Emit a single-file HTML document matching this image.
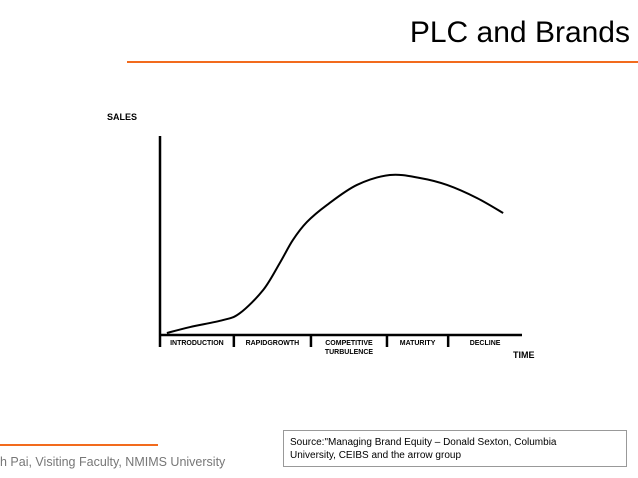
<!DOCTYPE html>
<html><head><meta charset="utf-8"><style>
body{margin:0;width:638px;height:478px;background:#fff;overflow:hidden;font-family:"Liberation Sans",sans-serif;position:relative}
.t{position:absolute;right:8px;top:16px;font-size:30px;color:#000}
.src{position:absolute;left:283px;top:430px;border:1px solid #999;font-size:10px;line-height:13px;padding:5px 0 0 6px;box-sizing:border-box;width:344px;height:37px}
.foot{position:absolute;left:0;top:455px;font-size:12.5px;color:#777}
</style></head><body>
<div class="t">PLC and Brands</div>
<div style="position:absolute;left:127px;top:61px;width:511px;height:2px;background:#f26b1d"></div>
<svg width="638" height="478" style="position:absolute;left:0;top:0" id="c"></svg>
<div style="position:absolute;left:0;top:444px;width:158px;height:2px;background:#f26b1d"></div>
<div class="foot">h Pai, Visiting Faculty, NMIMS University</div>
<div class="src">Source:"Managing Brand Equity – Donald Sexton, Columbia<br>University, CEIBS and the arrow group</div>
<script>
const times=[1.9,8.3,17.4,22.1,28.5,33.1,36.7,40.6,46.1,54.4,63.5,71.8,79.3,87.6,94.8];
const sales=[1,4,7.5,11,22.6,36.2,47.7,56.8,65.3,75.4,80.4,78.9,75.4,68.8,61.3];
const stages=["INTRODUCTION","RAPIDGROWTH","COMPETITIVE|TURBULENCE","MATURITY","DECLINE"];
const stageEnds=[0,20.4,41.7,62.7,79.6,100];
const x=t=>160+t*3.62, y=s=>335-s*1.99;
const svg=document.getElementById('c'),NS='http://www.w3.org/2000/svg';
function mk(tag,at){const e=document.createElementNS(NS,tag);for(const k in at)e.setAttribute(k,at[k]);svg.appendChild(e);return e;}
let e=mk('line',{x1:160,y1:136,x2:160,y2:347,stroke:'#000','stroke-width':2.5});


e=mk('line',{x1:159,y1:335,x2:522,y2:335,stroke:'#000','stroke-width':2.5});


stageEnds.slice(1,-1).forEach(t=>{
 const l=mk('line',{x1:x(t),y1:335,x2:x(t),y2:347,stroke:'#000','stroke-width':2.5});
 
 
});
stages.forEach((s,i)=>{
 const cx=(x(stageEnds[i])+x(stageEnds[i+1]))/2;
 s.split('|').forEach((p,j)=>{
  const tx=mk('text',{x:cx,y:345+j*9,'font-size':7,'font-weight':'bold','text-anchor':'middle','font-family':'Liberation Sans, sans-serif'});
  tx.textContent=p;
  
  
 });
});
let tt=mk('text',{x:107,y:120,'font-size':9,'font-weight':'bold','font-family':'Liberation Sans, sans-serif'});tt.textContent='SALES';


tt=mk('text',{x:513,y:358,'font-size':9,'font-weight':'bold','font-family':'Liberation Sans, sans-serif'});tt.textContent='TIME';


const pts=times.map((t,i)=>[x(t),y(sales[i])]);
let d='M'+pts[0].join(',');
for(let i=0;i<pts.length-1;i++){const p0=pts[i-1]||pts[i],p1=pts[i],p2=pts[i+1],p3=pts[i+2]||p2;
 d+=` C${p1[0]+(p2[0]-p0[0])/6},${p1[1]+(p2[1]-p0[1])/6} ${p2[0]-(p3[0]-p1[0])/6},${p2[1]-(p3[1]-p1[1])/6} ${p2[0]},${p2[1]}`;}
const c=mk('path',{d,fill:'none',stroke:'#000','stroke-width':2});


</script>
</body></html>
